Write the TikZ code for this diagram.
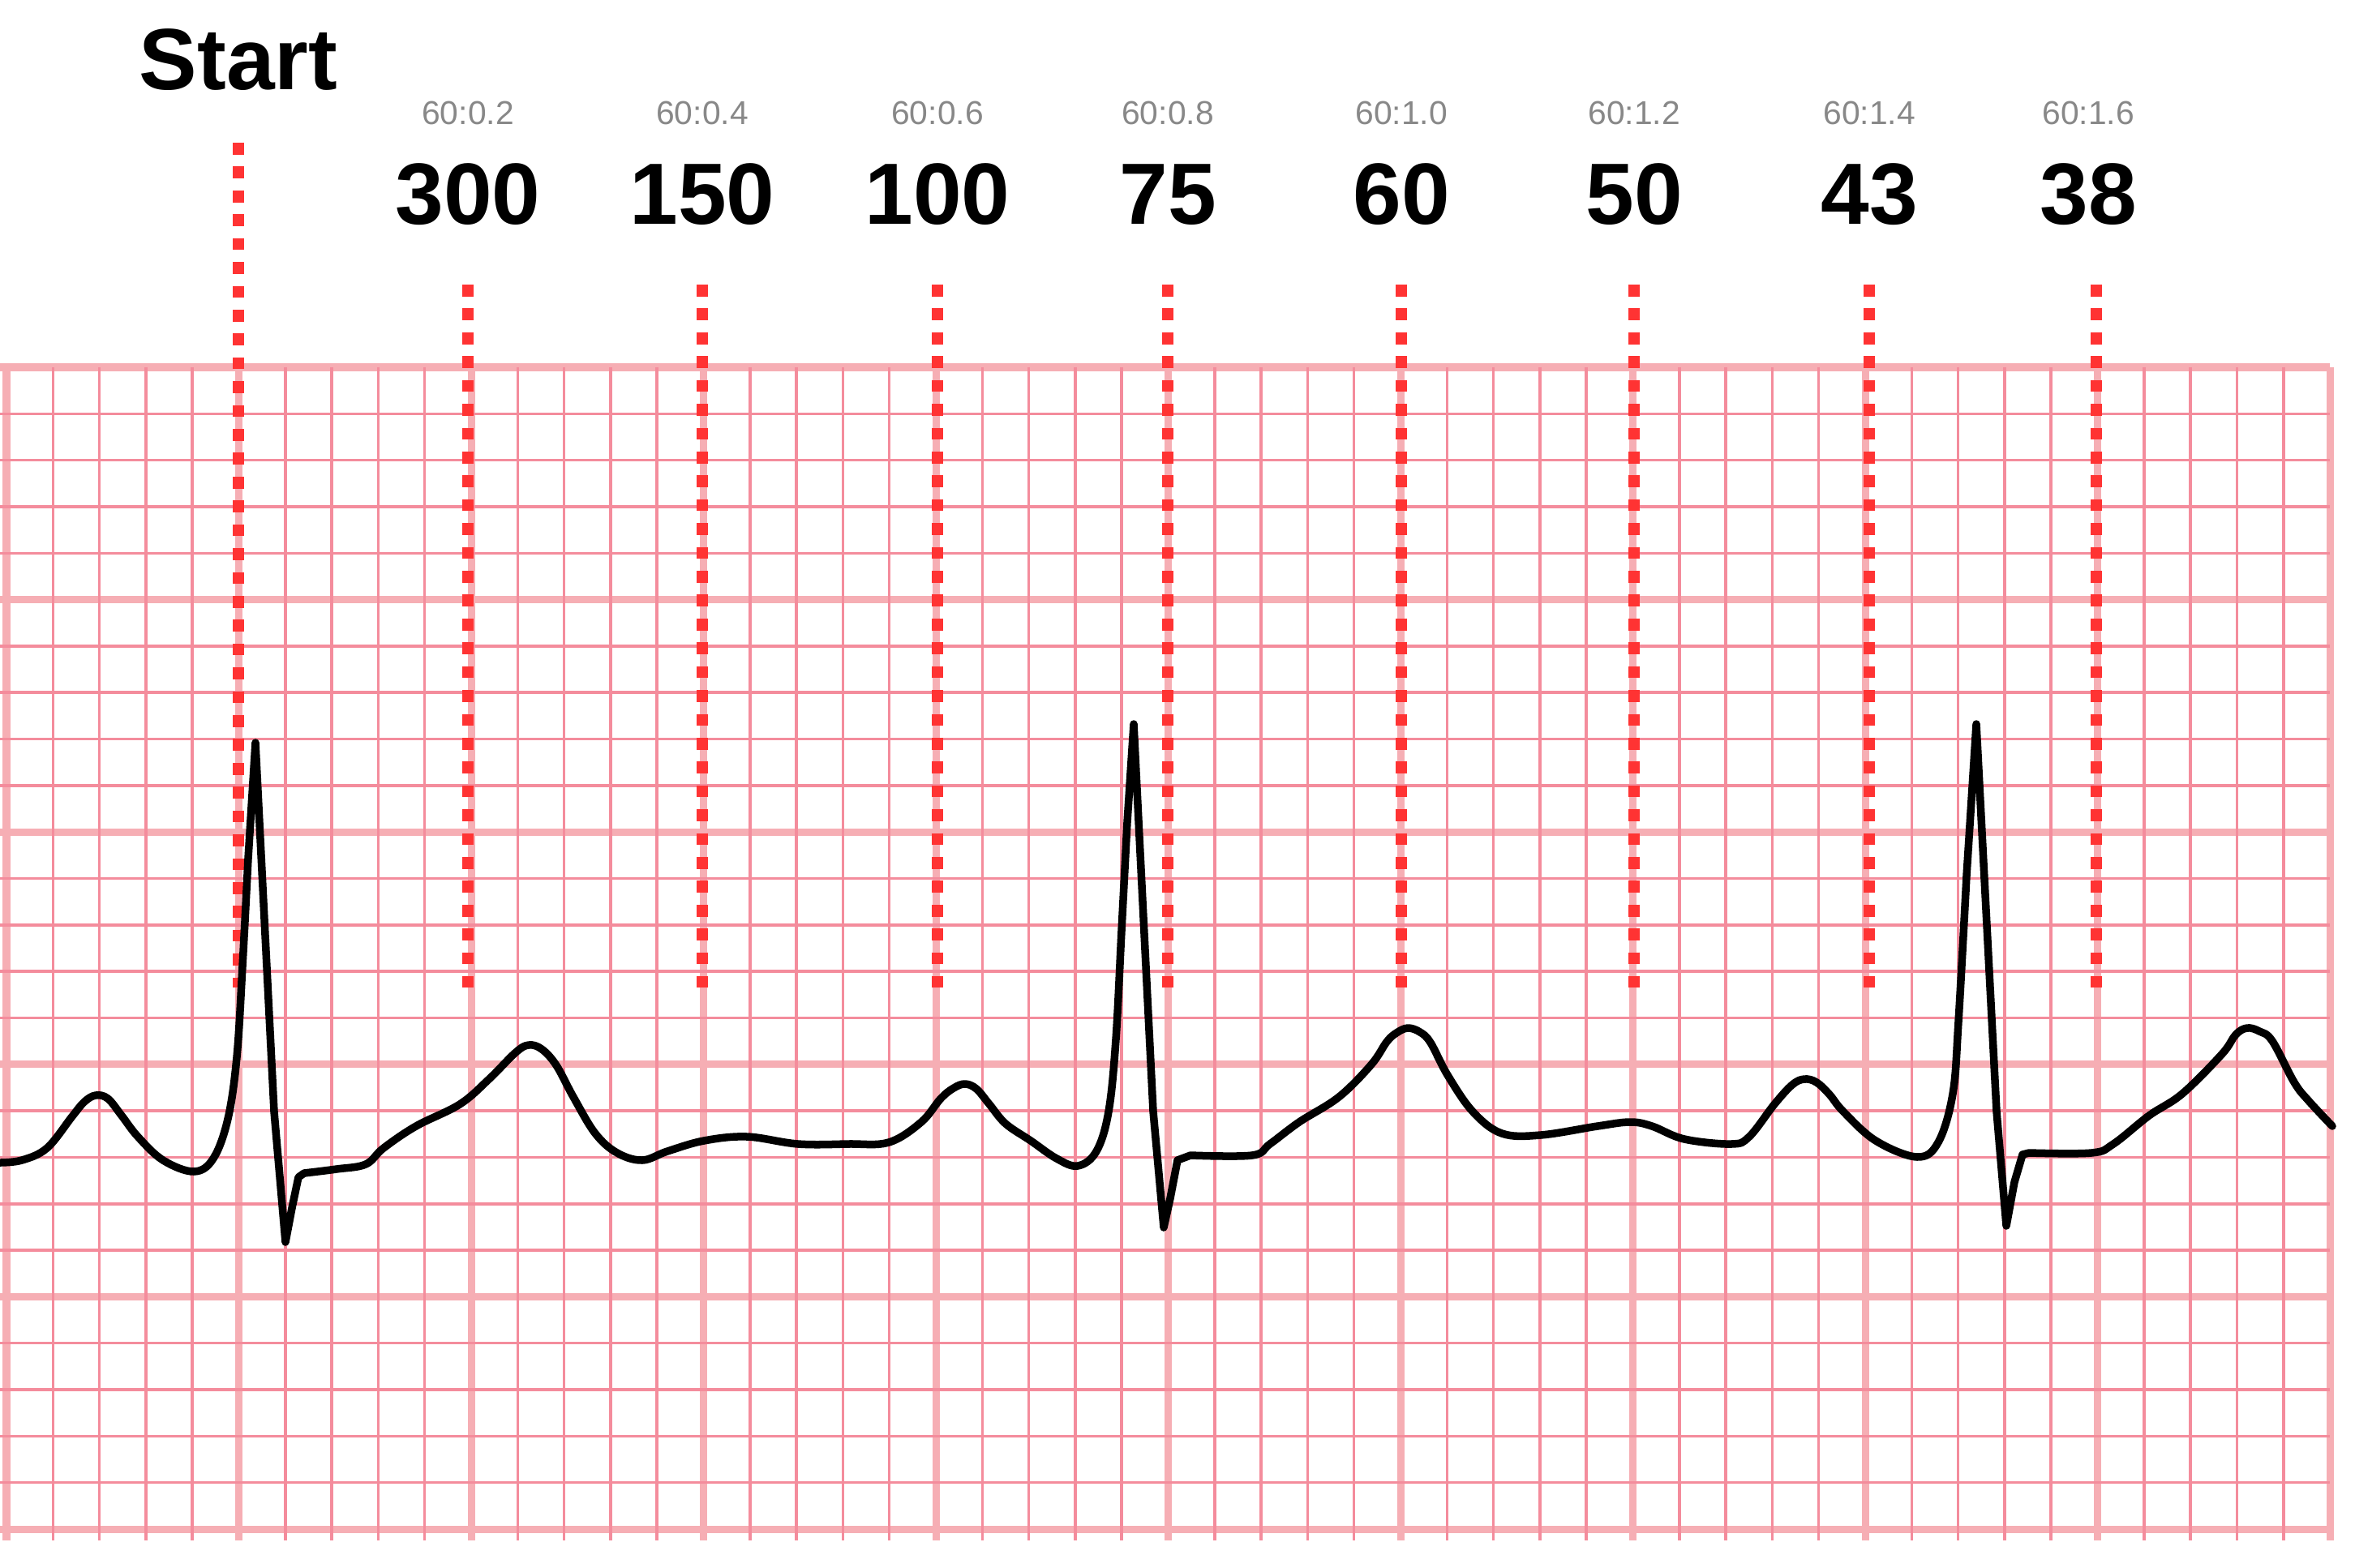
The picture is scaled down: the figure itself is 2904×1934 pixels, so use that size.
\documentclass[tikz,border=0pt]{standalone}
\usepackage{fontspec}
\setmainfont{Liberation Sans}
\definecolor{gridminorc}{RGB}{244,140,156}
\definecolor{gridmajorc}{RGB}{246,174,180}
\definecolor{dashred}{RGB}{255,51,51}
\definecolor{labgray}{RGB}{136,136,136}
\begin{document}
\begin{tikzpicture}[x=0.01cm,y=-0.01cm,
  gridminor/.style={draw=gridminorc,line width=0.035cm},
  gridmajor/.style={draw=gridmajorc,line width=0.09cm},
  ratemark/.style={draw=dashred,line width=0.14cm,dash pattern=on 0.147cm off 0.147cm},
  bignum/.style={anchor=base,inner sep=0pt,font=\fontsize{30.5pt}{31pt}\selectfont\bfseries},
  smalllab/.style={anchor=base,inner sep=0pt,text=labgray,font=\fontsize{11.6pt}{12pt}\selectfont},
  trace/.style={draw=black,line width=0.095cm,line join=round,line cap=round}]
\useasboundingbox (0,0) rectangle (2904,1934);
\fill[white] (0,0) rectangle (2904,1934);
% major grid
\foreach \i in {0,...,10} \draw[gridmajor] ({8+286.5*\i},453) -- ({8+286.5*\i},1900);
\foreach \j in {0,...,5} \draw[gridmajor] (0,{453+286.6*\j}) -- (2873,{453+286.6*\j});
% minor grid
\foreach \i in {0,...,9} \foreach \k in {1,...,4}
  \draw[gridminor] ({8+286.5*\i+57.3*\k},453) -- ({8+286.5*\i+57.3*\k},1900);
\foreach \j in {0,...,4} \foreach \k in {1,...,4}
  \draw[gridminor] (0,{453+286.6*\j+57.32*\k}) -- (2873,{453+286.6*\j+57.32*\k});
% labels and rate marks
\node[bignum] (lstart) at (294,111) {Start};
\coordinate (tstart) at (294,176);
\coordinate (bstart) at (294,1218);
\draw[ratemark] (tstart) -- (bstart);
\foreach \x/\lx/\n/\g/\nm in {577/577/300/60:0.2/a,866/866/150/60:0.4/b,1156/1156/100/60:0.6/c,1440/1440/75/60:0.8/d,1728/1728/60/60:1.0/e,2015/2015/50/60:1.2/f,2305/2305/43/60:1.4/g,2585/2575/38/60:1.6/h}{
  \node[smalllab] (g\nm) at (\lx,154) {\g};
  \node[bignum] (n\nm) at (\lx,277) {\n};
  \coordinate (t\nm) at (\x,351);
  \coordinate (b\nm) at (\x,1218);
  \draw[ratemark] (t\nm) -- (b\nm);
}
% ECG trace
\draw[trace]
  plot[smooth,tension=0.6] coordinates {(0,1434) (27,1431) (58,1416) (89,1377) (104,1359) (118,1351) (133,1355) (150,1376) (170,1402) (201,1431) (239,1445) (263,1429) (281,1380) (292,1304) (299,1192) (306,1059)}
  -- (315,916) -- (338,1371) -- (352,1532) -- (360,1490) -- (368,1452)
  -- plot[smooth,tension=0.6] coordinates {(375,1447) (415,1442) (451,1436) (473,1416) (513,1389) (567,1362) (603,1331) (636,1298) (652,1289) (668,1294) (686,1314) (707,1353) (734,1398) (761,1422) (792,1431) (823,1420) (868,1407) (921,1402) (984,1411) (1046,1411) (1096,1409) (1136,1384) (1160,1355) (1176,1342) (1190,1337) (1204,1343) (1220,1362) (1240,1386) (1271,1407) (1303,1429) (1329,1438) (1352,1420) (1367,1371) (1376,1282) (1383,1148) (1390,1014)}
  -- (1398,893) -- (1422,1371) -- (1435,1514) -- (1443,1478) -- (1452,1431)
  -- plot[smooth,tension=0.6] coordinates {(1468,1425) (1544,1425) (1566,1411) (1602,1384) (1651,1353) (1691,1313) (1710,1285) (1722,1274) (1736,1268) (1751,1273) (1764,1286) (1785,1326) (1816,1371) (1852,1398) (1900,1400) (1970,1389) (2010,1384) (2037,1389) (2077,1405) (2135,1411) (2157,1402) (2188,1362) (2210,1338) (2225,1331) (2240,1335) (2256,1350) (2273,1371) (2313,1407) (2364,1427) (2390,1409) (2408,1349) (2415,1260) (2425,1080)}
  -- (2437,893) -- (2462,1371) -- (2474,1512) -- (2484,1458) -- (2494,1424)
  -- plot[smooth,tension=0.6] coordinates {(2502,1422) (2579,1422) (2606,1411) (2650,1376) (2691,1349) (2740,1300) (2757,1276) (2771,1268) (2786,1272) (2802,1284) (2829,1335) (2847,1358) (2876,1389)};
\end{tikzpicture}
\end{document}
